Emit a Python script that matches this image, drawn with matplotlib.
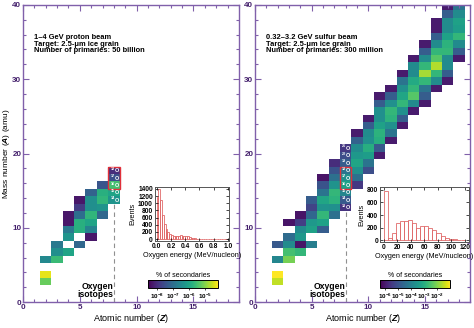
import numpy as np
import matplotlib.pyplot as plt
from matplotlib.patches import Rectangle
from matplotlib.ticker import MultipleLocator

plt.rcParams['font.family'] = ['Liberation Sans', 'DejaVu Sans']
plt.rcParams['font.weight'] = 'bold'
plt.rcParams['mathtext.fontset'] = 'custom'
plt.rcParams['mathtext.rm'] = 'Liberation Sans:bold'
plt.rcParams['mathtext.it'] = 'Liberation Sans:bold:italic'
plt.rcParams['mathtext.bf'] = 'Liberation Sans:bold'

# proton beam: cells (Z, A) and log10 of % of secondaries
proton_z = [2, 2, 2, 3, 3, 4, 3, 5, 4, 6, 4, 5, 6, 4, 5, 6, 4, 5, 6, 7,
            5, 6, 7, 5, 6, 7, 8, 6, 7, 8, 7, 8, 8, 8]
proton_a = [3, 4, 6, 6, 7, 7, 8, 8, 9, 9, 10, 10, 10, 11, 11, 11, 12, 12, 12, 12,
            13, 13, 13, 14, 14, 14, 14, 15, 15, 15, 16, 16, 17, 18]
proton_logp = [-5.2, -4.35, -6.5, -5.6, -6.4, -6.0, -6.8, -7.1, -6.3, -8.3,
               -6.8, -5.8, -6.6, -8.3, -5.8, -6.0, -8.3, -7.0, -5.7, -7.1,
               -7.8, -6.4, -6.3, -8.3, -6.4, -5.7, -6.3, -7.2, -5.8, -6.0,
               -7.4, -5.5, -7.5, -8.0]

# sulfur beam: per Z, first A and log10 % for consecutive A (None = empty)
sulfur_z = [2, 3, 4, 5, 6, 7, 8, 9, 10, 11, 12, 13, 14, 15, 16, 17, 18]
sulfur_a_first = [3, 6, 7, 8, 10, 12, 13, 16, 18, 20, 22, 24, 26, 27, 29, 30, 33]
sulfur_logp = [
    [-1.5, -1.0, None, -3.9, None, -4.9],
    [-2.1, -2.6, -3.8, -4.5, None, -6.1],
    [-2.8, -6.1, -3.5, -3.8, -5.4, -6.1],
    [-4.1, None, -3.3, -3.5, -4.6, -5.3, -4.8],
    [-4.8, -3.3, -2.8, -3.6, -3.2, -4.3, -5.0, -6.1],
    [-4.4, -3.7, -2.9, -2.8, -3.6, -4.4, -5.0, -5.7],
    [-5.6, -4.9, -3.9, -3.3, -3.7, -4.3, -4.8, -5.1, -5.5],
    [-5.5, -4.4, -3.7, -3.2, -3.5, -3.8, -4.7, -6.0],
    [-5.1, -4.3, -3.4, -3.0, -3.7, -3.8, -4.8, -6.0],
    [-6.0, -4.9, -3.0, -2.9, -3.3, -3.7, -3.7, -4.8, -6.0],
    [-6.0, -4.3, -3.7, -2.9, -2.8, -3.7, -4.8, -6.0],
    [-6.0, -4.8, -3.7, -2.8, -3.2, -3.7, -4.3, -6.0],
    [-6.0, -3.8, -2.4, -2.8, -3.1, -3.8, -3.8, -6.0],
    [-6.0, -4.8, -4.3, -2.8, -1.7, -2.8, -3.8, -4.8, -6.0],
    [-6.0, -3.8, -2.8, -1.6, -2.4, -2.8, -3.8, -4.8, -6.0, -6.0],
    [-6.0, -4.8, -3.8, -3.8, -2.8, -2.9, -3.3, -3.8, -3.8, -4.8, -6.0],
    [-6.0, -4.8, -3.8, -2.8, -3.4, -3.3, -3.8, -4.3],
]

proton_o_isotopes = [14, 15, 16, 17, 18]
sulfur_o_isotopes = [13, 14, 15, 16, 17, 18, 19, 20, 21]
boxed_isotopes = [16, 17, 18]

# oxygen energy histograms
proton_bin_width = 0.025
proton_events = [1170, 1390, 1100, 680, 430, 280, 200, 130, 110, 95,
                 80, 85, 95, 100, 95, 85, 90, 75, 60, 40,
                 30, 22, 15, 12, 10, 8, 7, 6, 5, 5,
                 4, 4, 3, 3, 3, 2, 2, 2, 1, 1]
sulfur_bin_width = 6
sulfur_events = [780, 40, 120, 265, 300, 310, 320, 280, 200, 220,
                 220, 185, 160, 110, 70, 40, 20, 10, 5, 3]

proton_text = ['1\u20134 GeV proton beam', 'Target: 2.5-\u03bcm ice grain',
               'Number of primaries: 50 billion']
sulfur_text = ['0.32\u20133.2 GeV sulfur beam', 'Target: 2.5-\u03bcm ice grain',
               'Number of primaries: 300 million']
proton_cticks = [-8, -7, -6, -5]
sulfur_cticks = [-6, -5, -4, -3, -2]

spine_col = '#8060aa'
label_col = '#44206c'
box_red = '#e0303a'

fig = plt.figure(figsize=(4.74, 3.28), dpi=100)


def grid_from_cells(zs, as_, vals):
    g = np.full((41, 20), np.nan)
    for z, a, v in zip(zs, as_, vals):
        if v is not None and a <= 40:
            g[a, z] = v
    return g


def draw_panel(rect, grid, vmin, vmax, lines, o_iso, cticks, cb_rect,
               in_rect, bw, events, in_xlim, in_ylim, in_xticks, in_yticks,
               in_fmt, ylabel):
    ax = fig.add_axes(rect)
    xe = np.arange(21) - 0.5
    ye = np.arange(42) - 0.75
    mesh = ax.pcolormesh(xe, ye, grid, cmap='viridis', vmin=vmin, vmax=vmax)
    ax.set_xlim(0, 19)
    ax.set_ylim(0, 40)
    ax.xaxis.set_major_locator(MultipleLocator(5))
    ax.xaxis.set_minor_locator(MultipleLocator(1))
    ax.yaxis.set_major_locator(MultipleLocator(10))
    ax.yaxis.set_minor_locator(MultipleLocator(2))
    ax.tick_params(which='both', direction='in', top=True, right=True,
                   colors=spine_col, labelcolor=label_col, labelsize=5.8,
                   width=0.8, pad=1.2)
    ax.tick_params(which='major', length=4)
    ax.tick_params(which='minor', length=2)
    for s in ax.spines.values():
        s.set_color(spine_col)
        s.set_linewidth(1.0)
    ax.set_xlabel('Atomic number ($Z$)', fontsize=6.5, labelpad=1)
    if ylabel:
        ax.set_ylabel('Mass number ($A$) (amu)', fontsize=6.0)
        ax.yaxis.set_label_coords(-0.051, 0.5)

    for i, t in enumerate(lines):
        ax.text(1.0, 35.6 - 0.9 * i, t, fontsize=5.4, va='center', ha='left')

    # oxygen isotopes
    lo = min(o_iso)
    ax.plot([8, 8], [0, lo - 0.75], ls=(0, (4, 3)), color='#909090', lw=0.8)
    for a in o_iso:
        ax.text(7.88, a - 0.05, str(a), color='white', fontsize=2.6,
                ha='center', va='center')
        ax.text(8.22, a - 0.3, 'O', color='white', fontsize=4.0,
                ha='center', va='center')
    ax.add_patch(Rectangle((7.5, min(boxed_isotopes) - 0.75), 1,
                           len(boxed_isotopes), fill=False, ec=box_red, lw=1.0))
    ax.text(7.95, 1.5, 'Oxygen\nisotopes', ha='right', va='center',
            fontsize=6.2, linespacing=0.85)

    cax = fig.add_axes(cb_rect)
    cb = fig.colorbar(mesh, cax=cax, orientation='horizontal')
    cb.set_ticks(cticks)
    cb.set_ticklabels([r'10$^{%d}$' % c for c in cticks])
    cax.tick_params(labelsize=4.5, length=1.5, width=0.5, pad=1.5)
    cb.outline.set_linewidth(0.7)
    cax.set_title('% of secondaries', fontsize=5.0, pad=2.5)

    iax = fig.add_axes(in_rect)
    lefts = np.arange(len(events)) * bw
    iax.bar(lefts, events, width=bw, align='edge', fill=False,
            edgecolor='#e06a6a', lw=0.6)
    iax.set_xlim(*in_xlim)
    iax.set_ylim(*in_ylim)
    iax.set_xticks(in_xticks)
    iax.set_xticklabels([in_fmt % v for v in in_xticks])
    iax.set_yticks(in_yticks)
    iax.tick_params(which='both', direction='in', top=True, right=True,
                    labelsize=4.8, length=2, width=0.5, pad=1.5)
    for s in iax.spines.values():
        s.set_linewidth(0.7)
        s.set_color('#555555')
    iax.set_xlabel('Oxygen energy (MeV/nucleon)', fontsize=5.2, labelpad=1)
    iax.set_ylabel('Events', fontsize=5.2, labelpad=1)
    return ax


pg = grid_from_cells(proton_z, proton_a, proton_logp)
sz, sa, sv = [], [], []
for z, a0, vals in zip(sulfur_z, sulfur_a_first, sulfur_logp):
    for k, v in enumerate(vals):
        sz.append(z)
        sa.append(a0 + k)
        sv.append(v)
sg = grid_from_cells(sz, sa, sv)

draw_panel([0.0485, 0.079, 0.4555, 0.906], pg, -8.56, -4.19, proton_text,
           proton_o_isotopes, proton_cticks, [0.312, 0.122, 0.148, 0.024],
           [0.327, 0.265, 0.157, 0.165], proton_bin_width, proton_events,
           (-0.024, 1.02), (-56, 1456), [0, 0.2, 0.4, 0.6, 0.8, 1.0],
           list(range(0, 1401, 200)), '%.1f', True)
draw_panel([0.538, 0.079, 0.454, 0.906], sg, -6.38, -0.98, sulfur_text,
           sulfur_o_isotopes, sulfur_cticks, [0.802, 0.122, 0.148, 0.024],
           [0.802, 0.262, 0.1865, 0.168], sulfur_bin_width, sulfur_events,
           (-5.5, 125.5), (-32, 848), list(range(0, 121, 20)),
           list(range(0, 801, 200)), '%d', False)

fig.savefig('out.png', dpi=100)
